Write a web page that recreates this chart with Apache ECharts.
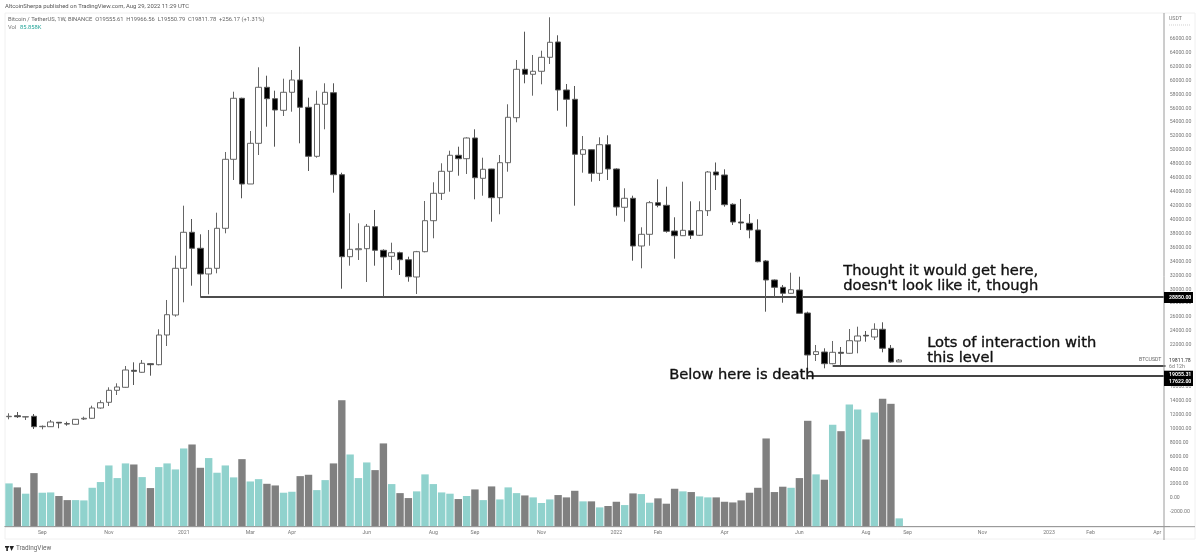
<!DOCTYPE html>
<html><head><meta charset="utf-8">
<style>html,body{margin:0;padding:0;background:#fff}#c{width:1200px;height:557px}</style>
<script src="https://cdn.jsdelivr.net/npm/echarts@6/dist/echarts.min.js"></script></head>
<body><div id="c"></div>
<script>
const opens=[11681,11825,11638,11739,10244,10244,10877,10675,10589,11351,11451,12931,13750,15474,15905,18348,18061,19296,19153,23420,26293,33003,38176,35877,32184,33003,38750,48664,57429,45116,50963,59009,57372,55705,58291,60058,56136,49095,56567,58234,46452,34670,35676,35819,38980,35589,34727,35245,34239,31753,35388,39843,43779,46940,49239,48751,51725,45934,47271,43147,48176,54641,61595,60877,61308,63320,65518,58621,57285,49383,50044,46653,50762,47271,41768,43061,36207,37888,42429,42055,38363,37687,38400,37745,41279,46840,46409,42198,39656,39469,38506,34052,31322,30273,29411,29885,26581,20618,20977,19296,20934,20791,22558,23377,23132,24239,21509,19555.61];
const closes=[11739,11681,11681,10244,10302,10920,10776,10632,11307,11451,12931,13693,15474,15948,18391,18204,19354,19153,23420,26337,33003,38176,35877,32184,33003,38750,48664,57429,45116,50963,59009,57372,55748,58291,60058,56136,49095,56567,58291,46452,34670,35733,35819,39038,35589,34627,35245,34239,31797,35388,39843,43779,46940,49239,48751,51725,46021,47228,43147,48176,54699,61595,60877,61308,63320,65475,58621,57285,49383,50044,46653,50762,47271,41811,43061,36207,37888,42429,42055,38319,37687,38463,37745,41279,46840,46409,42141,39656,39512,38506,33952,31322,30273,29411,29929,26538,20546,21020,19296,20934,20791,22601,23276,23276,24239,21509,19540,19811.78];
const lows=[11307,11494,11207,9914,9871,10201,10015,10388,10532,11207,11394,12831,13219,14799,15848,16236,18003,17572,19066,21839,26049,28118,30503,28837,29267,32285,38032,45690,43061,45116,49282,53349,50475,54886,55504,50963,46983,48895,52975,43865,30072,33377,34196,31035,33377,28923,32759,32041,31078,29311,35302,37314,42817,44009,46308,46552,42917,43435,39699,40762,46883,53981,59584,57803,59440,62357,55647,53349,41998,46739,45446,45547,45690,40561,39699,34096,33003,36250,41768,38118,34383,37644,37213,37644,40518,44253,41854,39225,38506,37314,33865,26767,28779,28061,29350,26500,17622,19684,18635,19210,19109,20733,20791,22457,22701,20934,19440,19550.79];
const highs=[12170,12356,11710,12069,10417,11207,10920,10963,11351,11681,13262,14038,15905,16480,18966,19497,19828,19354,24239,28449,34814,41998,40087,37888,38506,40992,49713,58377,57516,52731,61883,60676,58522,60245,61495,64843,57516,58522,59584,59584,46739,40906,39469,39368,41380,35733,36682,35388,34670,35500,42673,45360,48090,49900,50475,51825,52975,48895,47300,49282,56567,62932,66998,63650,64267,69067,66481,59484,59196,52012,50100,51825,52112,47371,44498,43435,38895,42673,45791,44728,40331,45446,42630,42630,46983,48205,47228,42343,42960,40805,40044,34196,31400,30604,32371,31797,26767,21983,21509,22558,21696,24282,24613,23995,25101,25245,21983,19966.56];
const volumes=[446,405,340,552,350,353,316,274,274,271,401,460,631,501,652,641,511,398,614,652,590,806,847,607,707,556,631,508,696,466,490,442,425,350,360,521,535,377,480,652,1303,744,501,662,583,858,439,346,295,364,539,439,353,340,285,316,384,274,415,281,405,346,322,302,244,281,326,302,370,261,261,199,213,257,223,343,336,247,292,237,391,364,357,312,302,302,257,250,271,350,401,909,357,412,401,501,1091,539,484,1050,984,1259,1207,899,1176,1317,1266,85.858];
const tickIndex=[4,12,21,29,34,43,51,56,64,73,78,86,95,103,108,117,125,130,138];
const tickNames=['Sep','Nov','2021','Mar','Apr','Jun','Aug','Sep','Nov','2022','Feb','Apr','Jun','Aug','Sep','Nov','2023','Feb','Apr'];
const levelStart=[23,99,96];
const levelValue=[28850,19055.31,17622];
const levelText=['28850.00','19055.31','17622.00'];
const hiddenPrices=[70000,68000,20000,18000,-4000];

const weekCount=140;
const start=Date.UTC(2020,7,10);
const categories=Array.from({length:weekCount},(_,i)=>new Date(start+i*7*864e5).toISOString().slice(0,10));
const BAND=8.32, LEFT=4.84, W=BAND*weekCount;
const UI='Roboto, "Open Sans", sans-serif', BIG='"DejaVu Sans", sans-serif';
const note=(x,y,t)=>({type:'text',z:50,left:x,top:y,style:{text:t,fill:'#111',stroke:'#111',lineWidth:0.35,font:'14.7px '+BIG}});
const small=(x,y,t,fill,size,bold,z)=>({type:'text',z:z||50,left:x,top:y,style:{text:t,fill:fill,font:(bold?'bold ':'')+(size||5.2)+'px '+UI}});
const line=(x1,y1,x2,y2,c,w,dash)=>({type:'line',z:40,shape:{x1,y1,x2,y2},style:{stroke:c,lineWidth:w||1,lineDash:dash}});
const box=(x,y,w,h,c,z)=>({type:'rect',z:z||45,shape:{x,y,width:w,height:h},style:{fill:c}});

const chart=echarts.init(document.getElementById('c'),null,{renderer:'canvas'});
chart.setOption({
 animation:false,backgroundColor:'#fff',
 grid:[{left:LEFT,top:10.8,width:W,height:515.04},{left:LEFT,top:390.8,width:W,height:135.9}],
 xAxis:[
  {type:'category',gridIndex:0,data:categories,show:false,boundaryGap:true},
  {type:'category',gridIndex:1,data:categories,boundaryGap:true,axisLine:{lineStyle:{color:'#9a9a9a'}},axisTick:{show:false},
   axisLabel:{margin:3.5,fontSize:5.2,fontFamily:'Roboto',color:'#777',showMinLabel:true,showMaxLabel:true,
    interval:(i)=>tickIndex.includes(i),
    formatter:(v,i)=>{const k=tickIndex.indexOf(i);return k<0?'':tickNames[k];}}}
 ],
 yAxis:[
  {type:'value',gridIndex:0,position:'right',min:-4000,max:70000,interval:2000,axisLine:{show:false},axisTick:{show:false},splitLine:{show:false},
   axisLabel:{margin:0,fontSize:5.2,fontFamily:'Roboto',color:'#777',formatter:v=>hiddenPrices.includes(v)?'':v.toFixed(2)}},
  {type:'value',gridIndex:1,min:0,max:1400,show:false,splitLine:{show:false}}
 ],
 series:[
  {type:'bar',xAxisIndex:1,yAxisIndex:1,barWidth:7.4,z:1,
   data:volumes.map((v,i)=>({value:v,itemStyle:{color:closes[i]>=opens[i]?'#90d2cd':'#808080'}}))},
  {type:'candlestick',xAxisIndex:0,yAxisIndex:0,barWidth:6,z:5,
   itemStyle:{color:'#ffffff',color0:'#000000',borderColor:'#666666',borderColor0:'#555555',borderWidth:1},
   data:opens.map((o,i)=>[o,closes[i],lows[i],highs[i]]),
   markLine:{silent:true,symbol:'none',animation:false,label:{show:false},
    data:levelValue.map((v,i)=>[
     {coord:[levelStart[i],v],lineStyle:{color:i===2?'#444':'#111',width:i===2?1.8:1.5,type:'solid'}},
     {coord:[weekCount-1,v]}])}}
 ],
 graphic:[
  {type:'rect',z:-1,shape:{x:5,y:13,width:1190,height:526},style:{fill:'none',stroke:'#f0f0f0',lineWidth:1}},
  line(1164,13,1164,540,'#9a9a9a',1),
  line(5,526.7,1195,526.7,'#9a9a9a',1),
  line(1169,25,1191,25,'#bbb',0.7,[1,1]),
  small(5,4,'AltcoinSherpa published on TradingView.com, Aug 29, 2022 11:29 UTC','#555',5.9),
  small(8,17,'Bitcoin / TetherUS, 1W, BINANCE  O19555.61  H19966.56  L19550.79  C19811.78  +256.17 (+1.31%)','#666',5.8),
  small(8,25,'Vol','#777',5.8),
  small(20,25,'85.858K','#26a69a',5.8),
  small(1169,16,'USDT','#777'),
  small(1139,357.5,'BTCUSDT','#666'),
  small(1169,358,'19811.78','#333'),
  small(1169,364.5,'6d 12h','#777'),
  box(1164,292,29,11,'#000'),
  box(1164,370.7,29,15.3,'#000'),
  small(1169,295,levelText[0],'#fff',5.2,true),
  small(1169,372.5,levelText[1],'#fff',5.2,true),
  small(1169,379.2,levelText[2],'#fff',5.2,true),
  note(843,264,'Thought it would get here,'),
  note(843,279,"doesn't look like it, though"),
  note(927,336,'Lots of interaction with'),
  note(927,351,'this level'),
  note(669,368,'Below here is death'),
  box(5,546,4,1.6,'#222'),
  box(6.3,546,1.6,5,'#222'),
  {type:'polygon',z:50,shape:{points:[[9.5,546],[14,546],[11.5,551]]},style:{fill:'#222'}},
  small(16,545,'TradingView','#666',6.4)
 ]
});
</script></body></html>
